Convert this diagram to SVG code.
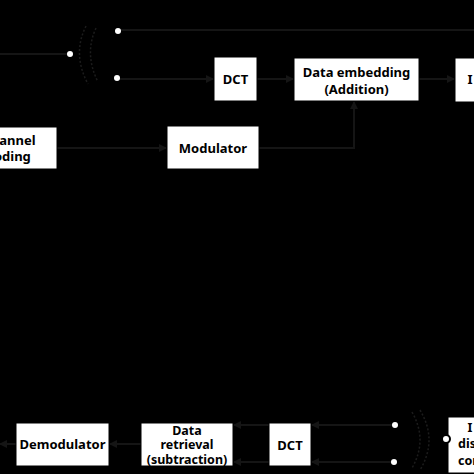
<svg xmlns="http://www.w3.org/2000/svg" width="474" height="474" viewBox="0 0 474 474">
<defs>
<marker id="ah" markerWidth="8" markerHeight="8" refX="7" refY="4" orient="auto" markerUnits="userSpaceOnUse">
<path d="M0,0 L8,4 L0,8 Z" fill="#151515"/>
</marker>
<style>
.box{fill:#fff;stroke:#000;stroke-width:1}
.t{font-family:"Noto Sans","Noto Sans CJK KR",sans-serif;font-weight:bold;font-size:13px;fill:#000;text-anchor:middle;dominant-baseline:central}
.s{font-size:12.5px}
.ln{fill:none;stroke:#151515;stroke-width:2}
.ar{fill:none;stroke:#151515;stroke-width:2;marker-end:url(#ah)}
.sw{fill:none;stroke:#1c1c1c;stroke-width:1.5;stroke-dasharray:2 2}
.dot{fill:#fff}
</style>
</defs>
<rect width="474" height="474" fill="#000"/>
<g id="connectors">
<line class="ln" x1="0" y1="54" x2="70" y2="54"/>
<line class="ln" x1="118" y1="30" x2="474" y2="30"/>
<line class="ar" x1="117" y1="79" x2="213" y2="79"/>
<line class="ar" x1="257" y1="79" x2="293" y2="79"/>
<line class="ar" x1="419" y1="79" x2="454" y2="79"/>
<line class="ar" x1="57" y1="148" x2="166" y2="148"/>
<polyline class="ar" points="259,148 354,148 354,102"/>
<line class="ar" x1="395" y1="425" x2="312" y2="425"/>
<line class="ar" x1="395" y1="462" x2="312" y2="462"/>
<line class="ar" x1="269" y1="425" x2="234" y2="425"/>
<line class="ar" x1="269" y1="462" x2="234" y2="462"/>
<line class="ar" x1="141" y1="444" x2="110" y2="444"/>
<line class="ar" x1="16" y1="444" x2="0" y2="444"/>
</g>
<g id="switch-top">
<path class="sw" d="M86,26 Q72,54 88,84"/>
<path class="sw" d="M96,28 Q84,54 98,82"/>
<circle class="dot" cx="70" cy="54" r="3"/>
<circle class="dot" cx="118" cy="31" r="3"/>
<circle class="dot" cx="117" cy="78" r="3"/>
</g>
<g id="switch-bottom">
<path class="sw" d="M420,410 Q438,440 420,470"/>
<path class="sw" d="M412,412 Q428,440 412,468"/>
<circle class="dot" cx="395" cy="425" r="3"/>
<circle class="dot" cx="394" cy="462" r="3"/>
</g>
<g id="channel-coding">
<rect class="box" x="-38" y="127" width="95" height="42"/>
<text class="t" x="9" y="140">Channel</text>
<text class="t" x="9" y="156">coding</text>
</g>
<g id="modulator">
<rect class="box" x="167" y="126" width="92" height="43"/>
<text class="t" x="213" y="148">Modulator</text>
</g>
<g id="dct-top">
<rect class="box" x="214" y="57" width="43" height="44"/>
<text class="t" x="235.5" y="79">DCT</text>
</g>
<g id="data-embedding">
<rect class="box" x="294" y="58" width="125" height="43"/>
<text class="t" x="356.5" y="72">Data embedding</text>
<text class="t" x="356.5" y="88.5">(Addition)</text>
</g>
<g id="top-right">
<rect class="box" x="455" y="58" width="30" height="44"/>
<text class="t" x="470" y="79">I</text>
</g>
<g id="demodulator">
<rect class="box" x="16" y="423" width="93" height="43"/>
<text class="t" x="62.5" y="444">Demodulator</text>
</g>
<g id="data-retrieval">
<rect class="box" x="141" y="423" width="92" height="43"/>
<text class="t s" x="187" y="430">Data</text>
<text class="t s" x="187" y="444.5">retrieval</text>
<text class="t s" x="187" y="459">(subtraction)</text>
</g>
<g id="dct-bottom">
<rect class="box" x="269" y="423" width="42" height="43"/>
<text class="t" x="290" y="445">DCT</text>
</g>
<g id="bottom-right">
<rect class="box" x="448" y="417" width="40" height="56"/>
<circle cx="446" cy="439" r="4" fill="#fff" stroke="#000" stroke-width="2"/>
<text class="t s" x="470" y="427">I</text>
<text class="t s" x="458" y="443" style="text-anchor:start">dis</text>
<text class="t s" x="458" y="460" style="text-anchor:start">cor</text>
</g>
</svg>
